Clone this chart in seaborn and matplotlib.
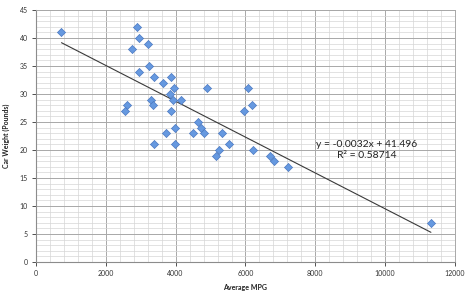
import numpy as np
import pandas as pd
import matplotlib
matplotlib.use("Agg")
import matplotlib.pyplot as plt
import seaborn as sns
from matplotlib.ticker import MultipleLocator

# ---- data ----
avg_mpg = [730, 2880, 2950, 2760, 3210, 3250, 2960, 3380, 3880, 3650,
           3950, 3840, 4150, 3910, 3300, 3350, 2610, 2560, 3870, 4900,
           4640, 4730, 4810, 4490, 3980, 3710, 5340, 3380, 3980, 5520,
           5250, 5160, 6080, 6180, 5970, 6220, 6710, 6820, 7210, 11310]
car_weight = [41, 42, 40, 38, 39, 35, 34, 33, 33, 32,
              31, 30, 29, 29, 29, 28, 28, 27, 27, 31,
              25, 24, 23, 23, 24, 23, 23, 21, 21, 21,
              20, 19, 31, 28, 27, 20, 19, 18, 17, 7]
slope = -0.0032
intercept = 41.496
r_squared = "0.58714"
x_ticks = [0, 2000, 4000, 6000, 8000, 10000, 12000]
y_ticks = [0, 5, 10, 15, 20, 25, 30, 35, 40, 45]
x_label = "Average MPG"
y_label = "Car Weight (Pounds)"

df = pd.DataFrame({"mpg": avg_mpg, "weight": car_weight})

sns.set_theme(style="white")
plt.rcParams["font.family"] = ["Lato", "DejaVu Sans"]

fig = plt.figure(figsize=(4.74, 2.97), dpi=100)
ax = fig.add_axes([36 / 474, 1 - 262 / 297, (455 - 36) / 474, (262 - 10) / 297])

ax.set_xlim(0, 12000)
ax.set_ylim(0, 45)
ax.xaxis.set_major_locator(MultipleLocator(2000))
ax.xaxis.set_minor_locator(MultipleLocator(400))
ax.yaxis.set_major_locator(MultipleLocator(5))
ax.yaxis.set_minor_locator(MultipleLocator(1))
ax.set_xticks(x_ticks)
ax.set_yticks(y_ticks)
ax.grid(which="major", color="#a8a8a8", linewidth=0.7)
ax.grid(which="minor", color="#d6d6d6", linewidth=0.5)
ax.set_axisbelow(True)

# trendline over data range
xs = np.array([min(avg_mpg), max(avg_mpg)])
ax.plot(xs, slope * xs + intercept, color="#3a3a3a", linewidth=0.8, zorder=2)

sns.scatterplot(data=df, x="mpg", y="weight", ax=ax, marker="D", s=17,
                color="#6699e0", edgecolor="#4a78c0", linewidth=0.5, zorder=3)

ax.text(9480, 21.0, f"y = {slope}x + {intercept}", fontsize=7.5,
        ha="center", va="center", color="#222222")
ax.text(9480, 19.1, f"R² = {r_squared}", fontsize=7.5,
        ha="center", va="center", color="#222222")

for side in ["top", "right"]:
    ax.spines[side].set_color("#a8a8a8")
    ax.spines[side].set_linewidth(0.7)
for side in ["left", "bottom"]:
    ax.spines[side].set_color("#8c8c8c")
    ax.spines[side].set_linewidth(0.8)

ax.tick_params(axis="both", which="major", labelsize=5, colors="#333333",
               length=3, width=0.6, direction="out", pad=3,
               left=True, bottom=True)
ax.tick_params(which="minor", length=0)

ax.set_xlabel(x_label, fontsize=5, fontweight="bold", labelpad=5, color="#222222")
ax.set_ylabel(y_label, fontsize=5, fontweight="bold", labelpad=7, color="#222222")

fig.savefig("out.png", dpi=100)
